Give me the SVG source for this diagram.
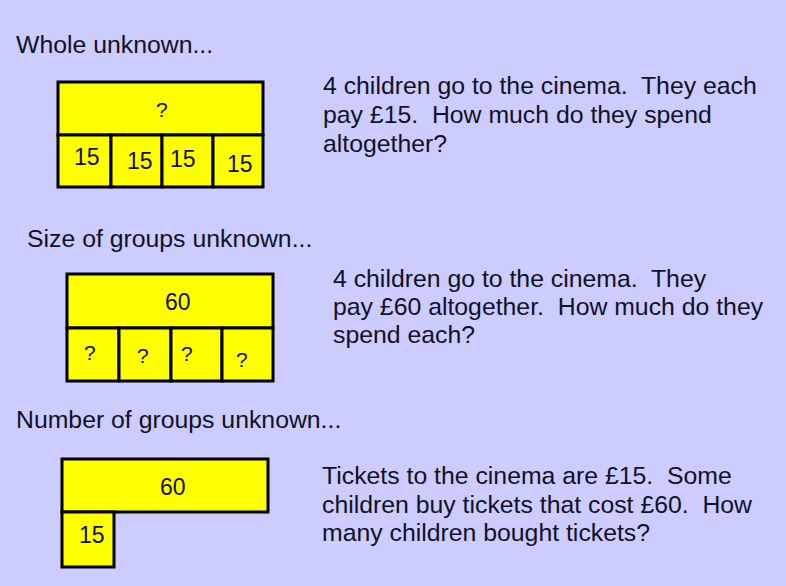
<svg xmlns="http://www.w3.org/2000/svg" width="786" height="586" viewBox="0 0 786 586" xml:space="preserve">
<style>
.t{font-family:"Liberation Sans",Arial,sans-serif;font-size:24.8px;fill:#111128;white-space:pre}
.b{fill:#ffff00;stroke:#000;stroke-width:3}
.l{font-family:"Liberation Sans",Arial,sans-serif;font-size:23px;fill:#111}
.q{font-family:"Liberation Sans",Arial,sans-serif;font-size:21px;fill:#111}
</style>
<rect width="786" height="586" fill="#ccccfe"/>
<text class="t" x="16" y="53">Whole unknown...</text>
<g id="box1">
<rect class="b" x="58" y="82" width="205" height="53"/>
<rect class="b" x="58" y="135" width="53" height="52"/>
<rect class="b" x="111" y="135" width="51" height="52"/>
<rect class="b" x="162" y="135" width="51" height="52"/>
<rect class="b" x="213" y="135" width="50" height="52"/>
<text class="q" x="156" y="117">?</text>
<text class="l" x="74" y="165">15</text>
<text class="l" x="127" y="169">15</text>
<text class="l" x="170" y="167">15</text>
<text class="l" x="227" y="172">15</text>
</g>
<g id="text1">
<text class="t" x="323" y="94">4 children go to the cinema.  They each</text>
<text class="t" x="323" y="123">pay £15.  How much do they spend</text>
<text class="t" x="323" y="152">altogether?</text>
</g>
<text class="t" x="27" y="247">Size of groups unknown...</text>
<g id="box2">
<rect class="b" x="67" y="274" width="206" height="54"/>
<rect class="b" x="67" y="328" width="52" height="53"/>
<rect class="b" x="119" y="328" width="52" height="53"/>
<rect class="b" x="171" y="328" width="51" height="53"/>
<rect class="b" x="222" y="328" width="51" height="53"/>
<text class="l" x="165" y="310">60</text>
<text class="q" x="84" y="360">?</text>
<text class="q" x="137" y="363">?</text>
<text class="q" x="181" y="361">?</text>
<text class="q" x="236" y="367">?</text>
</g>
<g id="text2">
<text class="t" x="333" y="287">4 children go to the cinema.  They</text>
<text class="t" x="333" y="315">pay £60 altogether.  How much do they</text>
<text class="t" x="333" y="343">spend each?</text>
</g>
<text class="t" x="16" y="428">Number of groups unknown...</text>
<g id="box3">
<rect class="b" x="62" y="459" width="206" height="53"/>
<rect class="b" x="62" y="512" width="52" height="55"/>
<text class="l" x="160" y="495">60</text>
<text class="l" x="79" y="543">15</text>
</g>
<g id="text3">
<text class="t" x="322" y="484">Tickets to the cinema are £15.  Some</text>
<text class="t" x="322" y="513">children buy tickets that cost £60.  How</text>
<text class="t" x="322" y="541">many children bought tickets?</text>
</g>
<g id="connectors"/>
</svg>
